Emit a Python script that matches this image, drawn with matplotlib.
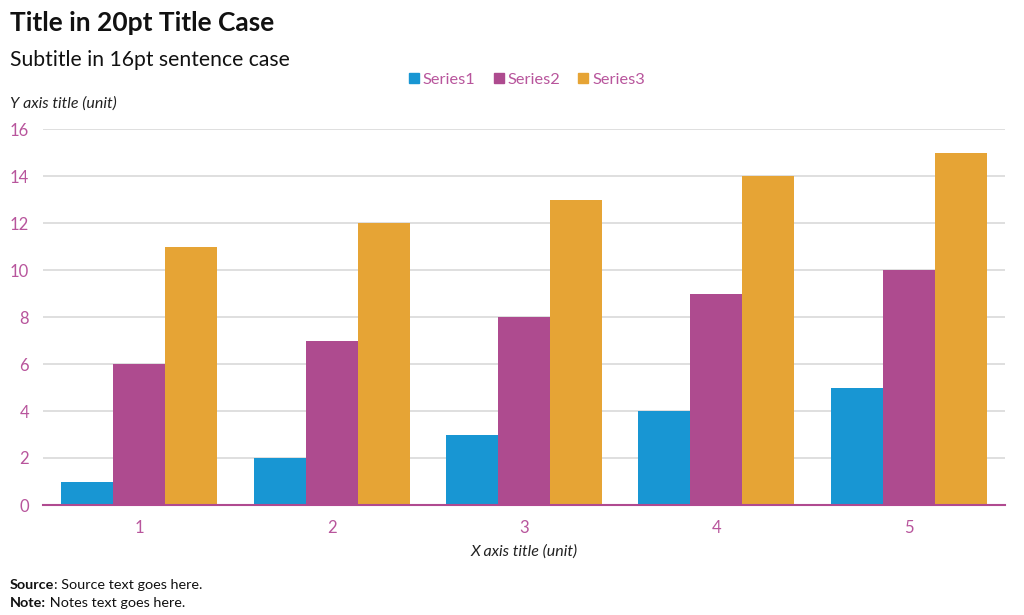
import matplotlib
matplotlib.use("Agg")
import matplotlib.pyplot as plt
from matplotlib.lines import Line2D
import numpy as np

categories = ["1", "2", "3", "4", "5"]
series_names = ["Series1", "Series2", "Series3"]
series1 = [1, 2, 3, 4, 5]
series2 = [6, 7, 8, 9, 10]
series3 = [11, 12, 13, 14, 15]
y_ticks = [0, 2, 4, 6, 8, 10, 12, 14, 16]

colors = ["#1896d3", "#ae4b8f", "#e6a435"]
pink = "#b8559c"
FONT = "Lato"

plt.rcParams["font.family"] = [FONT, "DejaVu Sans"]

fig = plt.figure(figsize=(10.24, 6.15), dpi=100)
ax = fig.add_axes([43 / 1024, 1 - 505 / 615, (1005 - 43) / 1024, (505 - 129) / 615])

x = np.arange(1, len(categories) + 1)
w = 0.27
for i, (vals, name) in enumerate(zip([series1, series2, series3], series_names)):
    ax.bar(x + (i - 1) * w, vals, width=w, color=colors[i], label=name, zorder=3)

ax.set_xlim(0.5, 5.5)
ax.set_ylim(0, 16)
ax.set_xticks(x)
ax.set_xticklabels(categories)
ax.set_yticks(y_ticks)
ax.tick_params(axis="both", length=0, labelsize=12, labelcolor=pink)
ax.tick_params(axis="y", pad=10)
ax.tick_params(axis="x", pad=11)
ax.grid(axis="y", color="#d9d9d9", linewidth=1.2, zorder=0)
for s in ["top", "right", "left"]:
    ax.spines[s].set_visible(False)
ax.spines["bottom"].set_color("#b04a90")
ax.spines["bottom"].set_linewidth(1.5)
ax.spines["bottom"].set_zorder(4)

ax.set_xlabel("X axis title (unit)", fontsize=11.5, style="italic", color="#222222", labelpad=6)

fig.text(10 / 1024, 1 - 31 / 615, "Title in 20pt Title Case", fontsize=19, fontweight="bold",
         color="#111111", ha="left", va="baseline")
fig.text(10 / 1024, 1 - 66 / 615, "Subtitle in 16pt sentence case", fontsize=15.2,
         color="#111111", ha="left", va="baseline")
fig.text(10 / 1024, 1 - 108 / 615, "Y axis title (unit)", fontsize=11.5, style="italic",
         color="#222222", ha="left", va="baseline")

handles = [Line2D([], [], marker="s", linestyle="none", markersize=6.5, color=c) for c in colors]
leg = fig.legend(handles, series_names, loc="center", bbox_to_anchor=(527 / 1024, 1 - 80 / 615),
                 ncol=3, frameon=False, fontsize=11.8, handlelength=0.6, handletextpad=0.25,
                 columnspacing=1.1, labelcolor=pink)

t1 = fig.text(10 / 1024, 1 - 589 / 615, "Source", fontsize=10.4, fontweight="bold",
              color="#111111", ha="left", va="baseline")
fig.canvas.draw()
ax.annotate(": Source text goes here.", xy=(1, 0), xycoords=t1, fontsize=10.4,
            color="#111111", ha="left", va="bottom", annotation_clip=False)
t2 = fig.text(10 / 1024, 1 - 607 / 615, "Note:", fontsize=10.4, fontweight="bold",
              color="#111111", ha="left", va="baseline")
ax.annotate(" Notes text goes here.", xy=(1, 0), xycoords=t2, fontsize=10.4,
            color="#111111", ha="left", va="bottom", annotation_clip=False)

fig.savefig("out.png", dpi=100)
